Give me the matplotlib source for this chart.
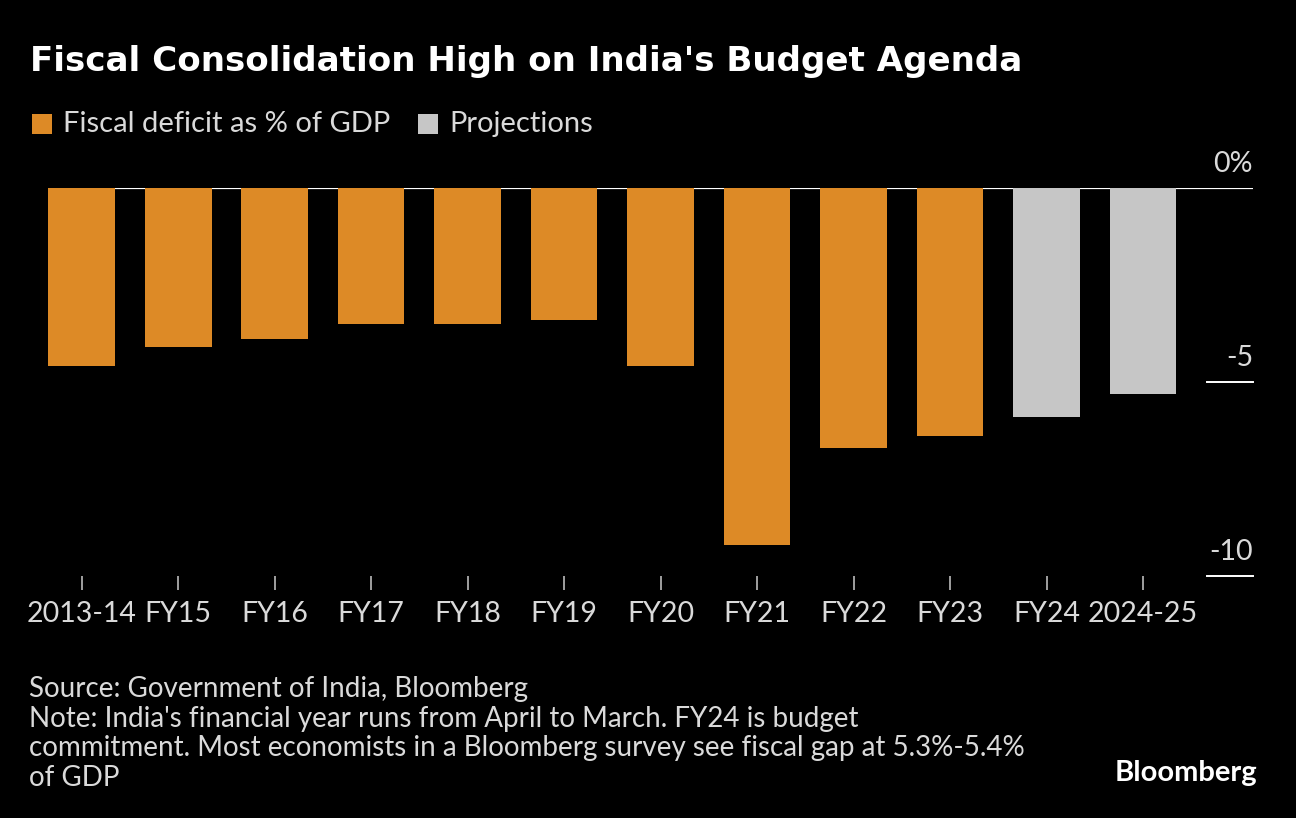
import matplotlib
matplotlib.use("Agg")
import matplotlib.pyplot as plt
import matplotlib.transforms as mtransforms
from matplotlib.patches import Rectangle

categories = ["2013-14", "FY15", "FY16", "FY17", "FY18", "FY19", "FY20",
              "FY21", "FY22", "FY23", "FY24", "2024-25"]
deficit = [-4.6, -4.1, -3.9, -3.5, -3.5, -3.4, -4.6, -9.2, -6.7, -6.4, -5.9, -5.3]
is_projection = [False] * 10 + [True, True]
y_ticks = [0, -5, -10]
y_tick_labels = ["0%", "-5", "-10"]

ORANGE = "#DD8A26"
GRAY = "#C6C6C6"
TEXT = "#DADADA"
FONT = ["Lato", "DejaVu Sans"]

plt.rcParams["font.family"] = FONT

fig = plt.figure(figsize=(12.96, 8.18), dpi=100, facecolor="black")
ax = fig.add_axes([48 / 1296, 1 - 576 / 818, (1253 - 48) / 1296, (576 - 188) / 818])
ax.set_facecolor("black")

x = list(range(len(categories)))
colors = [GRAY if p else ORANGE for p in is_projection]
ax.axhline(0, color="white", lw=1.6, zorder=1)
ax.bar(x, deficit, width=0.69, color=colors, zorder=2)

ax.set_xlim(-0.35, 12.14)
ax.set_ylim(-10, 0)
for s in ax.spines.values():
    s.set_visible(False)

ax.set_xticks(x)
ax.set_xticklabels(categories, fontsize=20.5, color=TEXT)
ax.tick_params(axis="x", length=10, width=1.2, color="#BBBBBB", pad=8)

ax.set_yticks([])
trans = mtransforms.blended_transform_factory(ax.transAxes, ax.transData)
for v, lab in zip(y_ticks, y_tick_labels):
    if v != 0:
        ax.plot([0.962, 1.0], [v, v], transform=trans, color="white", lw=1.4, clip_on=False)
    ax.annotate(lab, xy=(1.0, v), xycoords=trans, xytext=(0, 8), textcoords="offset points",
                ha="right", va="bottom", fontsize=20.5, color=TEXT, annotation_clip=False)

# Title
fig.text(30 / 1296, 1 - 62 / 818, "Fiscal Consolidation High on India's Budget Agenda",
         fontsize=24.6, fontweight="bold", color="white", va="center", ha="left",
         family=["DejaVu Sans"])

# Legend
legend_items = [("Fiscal deficit as % of GDP", ORANGE, 32, 63), ("Projections", GRAY, 418, 449)]
for label, col, px, tx in legend_items:
    fig.patches.append(Rectangle((px / 1296, 1 - 134 / 818), 20 / 1296, 20 / 818,
                                 transform=fig.transFigure, facecolor=col, edgecolor="none"))
    fig.text(tx / 1296, 1 - 124 / 818, label, fontsize=21, color=TEXT,
             va="center", ha="left")

# Footnotes
notes = ["Source: Government of India, Bloomberg",
         "Note: India's financial year runs from April to March. FY24 is budget",
         "commitment. Most economists in a Bloomberg survey see fiscal gap at 5.3%-5.4%",
         "of GDP"]
for i, line in enumerate(notes):
    fig.text(29 / 1296, 1 - (689 + i * 29.5) / 818, line, fontsize=20, color=TEXT,
             va="center", ha="left")

fig.text(1257 / 1296, 1 - 773 / 818, "Bloomberg", fontsize=21, fontweight="bold",
         color="white", va="center", ha="right", family=["Lato", "DejaVu Sans"])

fig.savefig("out.png", dpi=100, facecolor="black")
